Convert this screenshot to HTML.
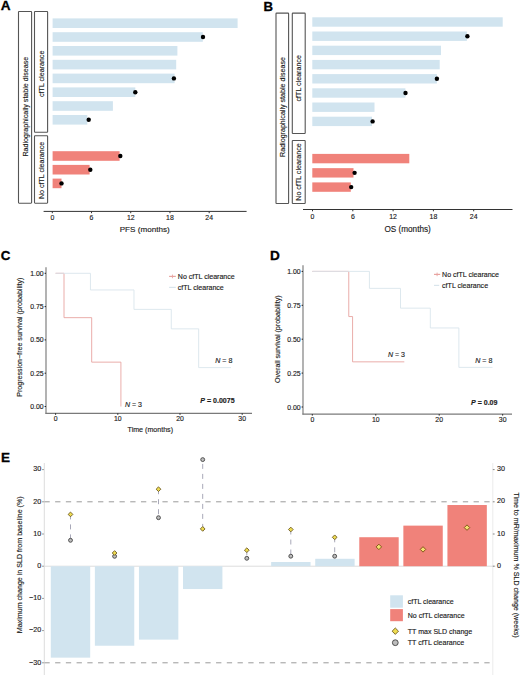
<!DOCTYPE html>
<html><head><meta charset="utf-8"><style>
html,body{margin:0;padding:0;background:#fff;}
body{width:520px;height:675px;overflow:hidden;}
svg{display:block;font-family:"Liberation Sans", sans-serif;}
text{stroke:#1a1a1a;stroke-width:0.14px;}
text.L{stroke:#000;stroke-width:0.3px;}
</style></head><body>
<svg width="520" height="675" viewBox="0 0 520 675">
<rect x="0" y="0" width="520" height="675" fill="#fff"/>
<text class="L" x="0.7" y="10.3" font-size="13.6" text-anchor="start" font-weight="bold" font-style="normal" fill="#000">A</text>
<rect x="18.5" y="11.5" width="13.100000000000001" height="191.7" rx="0.6" fill="#fff" stroke="#555" stroke-width="1.1"/>
<rect x="34.5" y="11.5" width="13.100000000000001" height="120.80000000000001" rx="0.6" fill="#fff" stroke="#555" stroke-width="1.1"/>
<rect x="34.5" y="135.8" width="13.100000000000001" height="67.39999999999998" rx="0.6" fill="#fff" stroke="#555" stroke-width="1.1"/>
<text x="27.61" y="106.70" font-size="7.1" text-anchor="middle" fill="#1a1a1a" transform="rotate(-90 27.61 106.70)">Radiographically stable disease</text>
<text x="43.61" y="73.80" font-size="7.1" text-anchor="middle" fill="#1a1a1a" transform="rotate(-90 43.61 73.80)">cfTL clearance</text>
<text x="43.61" y="170.40" font-size="7.1" text-anchor="middle" fill="#1a1a1a" transform="rotate(-90 43.61 170.40)">No cfTL clearance</text>
<rect x="52.60" y="18.40" width="185.00" height="9.60" fill="#D1E4EF"/>
<rect x="52.60" y="32.20" width="150.20" height="9.60" fill="#D1E4EF"/>
<rect x="52.60" y="46.00" width="124.80" height="9.60" fill="#D1E4EF"/>
<rect x="52.60" y="59.80" width="123.60" height="9.60" fill="#D1E4EF"/>
<rect x="52.60" y="73.60" width="122.00" height="9.60" fill="#D1E4EF"/>
<rect x="52.60" y="87.40" width="82.70" height="9.60" fill="#D1E4EF"/>
<rect x="52.60" y="101.20" width="60.30" height="9.60" fill="#D1E4EF"/>
<rect x="52.60" y="115.00" width="34.70" height="9.60" fill="#D1E4EF"/>
<circle cx="203.0" cy="37.0" r="2.2" fill="#000"/>
<circle cx="173.9" cy="78.4" r="2.2" fill="#000"/>
<circle cx="135.3" cy="92.2" r="2.2" fill="#000"/>
<circle cx="88.7" cy="119.80000000000001" r="2.2" fill="#000"/>
<rect x="52.60" y="151.20" width="67.00" height="9.60" fill="#F0827A"/>
<circle cx="120.3" cy="156.0" r="2.2" fill="#000"/>
<rect x="52.60" y="164.90" width="37.00" height="9.60" fill="#F0827A"/>
<circle cx="90.3" cy="169.7" r="2.2" fill="#000"/>
<rect x="52.60" y="178.60" width="8.90" height="9.60" fill="#F0827A"/>
<circle cx="61.5" cy="183.4" r="2.2" fill="#000"/>
<line x1="43.6" y1="211.4" x2="246.6" y2="211.4" stroke="#333" stroke-width="1.0"/>
<line x1="52.3" y1="211.4" x2="52.3" y2="213.2" stroke="#333" stroke-width="1"/>
<text x="52.3" y="220.4" font-size="6.9" text-anchor="middle" font-weight="normal" font-style="normal" fill="#1a1a1a">0</text>
<line x1="91.52" y1="211.4" x2="91.52" y2="213.2" stroke="#333" stroke-width="1"/>
<text x="91.52" y="220.4" font-size="6.9" text-anchor="middle" font-weight="normal" font-style="normal" fill="#1a1a1a">6</text>
<line x1="130.74" y1="211.4" x2="130.74" y2="213.2" stroke="#333" stroke-width="1"/>
<text x="130.74" y="220.4" font-size="6.9" text-anchor="middle" font-weight="normal" font-style="normal" fill="#1a1a1a">12</text>
<line x1="169.95999999999998" y1="211.4" x2="169.95999999999998" y2="213.2" stroke="#333" stroke-width="1"/>
<text x="169.96" y="220.4" font-size="6.9" text-anchor="middle" font-weight="normal" font-style="normal" fill="#1a1a1a">18</text>
<line x1="209.18" y1="211.4" x2="209.18" y2="213.2" stroke="#333" stroke-width="1"/>
<text x="209.18" y="220.4" font-size="6.9" text-anchor="middle" font-weight="normal" font-style="normal" fill="#1a1a1a">24</text>
<text x="144.7" y="232.3" font-size="8.1" text-anchor="middle" font-weight="normal" font-style="normal" fill="#1a1a1a">PFS (months)</text>
<text class="L" x="263.6" y="10.9" font-size="13.2" text-anchor="start" font-weight="bold" font-style="normal" fill="#000">B</text>
<rect x="276.0" y="13.1" width="12.600000000000023" height="190.4" rx="0.6" fill="#fff" stroke="#555" stroke-width="1.1"/>
<rect x="292.3" y="13.1" width="12.899999999999977" height="120.4" rx="0.6" fill="#fff" stroke="#555" stroke-width="1.1"/>
<rect x="292.3" y="140.5" width="12.899999999999977" height="63.0" rx="0.6" fill="#fff" stroke="#555" stroke-width="1.1"/>
<text x="284.86" y="107.00" font-size="7.1" text-anchor="middle" fill="#1a1a1a" transform="rotate(-90 284.86 107.00)">Radiographically stable disease</text>
<text x="301.31" y="78.30" font-size="7.1" text-anchor="middle" fill="#1a1a1a" transform="rotate(-90 301.31 78.30)">cfTL clearance</text>
<text x="301.31" y="172.00" font-size="7.1" text-anchor="middle" fill="#1a1a1a" transform="rotate(-90 301.31 172.00)">No cfTL clearance</text>
<rect x="312.30" y="17.30" width="190.40" height="9.40" fill="#D1E4EF"/>
<rect x="312.30" y="31.50" width="154.60" height="9.40" fill="#D1E4EF"/>
<rect x="312.30" y="45.70" width="128.70" height="9.40" fill="#D1E4EF"/>
<rect x="312.30" y="59.90" width="127.40" height="9.40" fill="#D1E4EF"/>
<rect x="312.30" y="74.10" width="124.60" height="9.40" fill="#D1E4EF"/>
<rect x="312.30" y="88.30" width="93.10" height="9.40" fill="#D1E4EF"/>
<rect x="312.30" y="102.50" width="62.20" height="9.40" fill="#D1E4EF"/>
<rect x="312.30" y="116.70" width="59.70" height="9.40" fill="#D1E4EF"/>
<circle cx="467.4" cy="36.2" r="2.2" fill="#000"/>
<circle cx="436.9" cy="78.8" r="2.2" fill="#000"/>
<circle cx="405.5" cy="93.0" r="2.2" fill="#000"/>
<circle cx="372.6" cy="121.39999999999999" r="2.2" fill="#000"/>
<rect x="312.30" y="153.90" width="97.00" height="9.40" fill="#F0827A"/>
<rect x="312.30" y="168.15" width="41.20" height="9.40" fill="#F0827A"/>
<rect x="312.30" y="182.40" width="38.50" height="9.40" fill="#F0827A"/>
<circle cx="354.6" cy="172.85" r="2.2" fill="#000"/>
<circle cx="351.2" cy="187.1" r="2.2" fill="#000"/>
<line x1="303" y1="209.5" x2="512.5" y2="209.5" stroke="#333" stroke-width="1.0"/>
<line x1="312.5" y1="209.5" x2="312.5" y2="211.3" stroke="#333" stroke-width="1"/>
<text x="312.5" y="219.0" font-size="6.9" text-anchor="middle" font-weight="normal" font-style="normal" fill="#1a1a1a">0</text>
<line x1="352.8" y1="209.5" x2="352.8" y2="211.3" stroke="#333" stroke-width="1"/>
<text x="352.8" y="219.0" font-size="6.9" text-anchor="middle" font-weight="normal" font-style="normal" fill="#1a1a1a">6</text>
<line x1="393.1" y1="209.5" x2="393.1" y2="211.3" stroke="#333" stroke-width="1"/>
<text x="393.1" y="219.0" font-size="6.9" text-anchor="middle" font-weight="normal" font-style="normal" fill="#1a1a1a">12</text>
<line x1="433.4" y1="209.5" x2="433.4" y2="211.3" stroke="#333" stroke-width="1"/>
<text x="433.4" y="219.0" font-size="6.9" text-anchor="middle" font-weight="normal" font-style="normal" fill="#1a1a1a">18</text>
<line x1="473.7" y1="209.5" x2="473.7" y2="211.3" stroke="#333" stroke-width="1"/>
<text x="473.7" y="219.0" font-size="6.9" text-anchor="middle" font-weight="normal" font-style="normal" fill="#1a1a1a">24</text>
<text x="407.6" y="231.9" font-size="8.2" text-anchor="middle" font-weight="normal" font-style="normal" fill="#1a1a1a">OS (months)</text>
<text class="L" x="0.7" y="259.8" font-size="13.4" text-anchor="start" font-weight="bold" font-style="normal" fill="#000">C</text>
<line x1="46.0" y1="267.2" x2="46.0" y2="413.8" stroke="#7a7a7a" stroke-width="1.15"/>
<line x1="45.4" y1="413.3" x2="252.0" y2="413.3" stroke="#7a7a7a" stroke-width="1.15"/>
<line x1="44.6" y1="273.3" x2="46.0" y2="273.3" stroke="#222" stroke-width="1"/>
<text x="43.6" y="275.75" font-size="6.9" text-anchor="end" font-weight="normal" font-style="normal" fill="#1a1a1a">1.00</text>
<line x1="44.6" y1="306.6" x2="46.0" y2="306.6" stroke="#222" stroke-width="1"/>
<text x="43.6" y="309.05" font-size="6.9" text-anchor="end" font-weight="normal" font-style="normal" fill="#1a1a1a">0.75</text>
<line x1="44.6" y1="339.9" x2="46.0" y2="339.9" stroke="#222" stroke-width="1"/>
<text x="43.6" y="342.35" font-size="6.9" text-anchor="end" font-weight="normal" font-style="normal" fill="#1a1a1a">0.50</text>
<line x1="44.6" y1="373.2" x2="46.0" y2="373.2" stroke="#222" stroke-width="1"/>
<text x="43.6" y="375.65" font-size="6.9" text-anchor="end" font-weight="normal" font-style="normal" fill="#1a1a1a">0.25</text>
<line x1="44.6" y1="406.5" x2="46.0" y2="406.5" stroke="#222" stroke-width="1"/>
<text x="43.6" y="408.95" font-size="6.9" text-anchor="end" font-weight="normal" font-style="normal" fill="#1a1a1a">0.00</text>
<line x1="55.6" y1="413.3" x2="55.6" y2="414.8" stroke="#222" stroke-width="1"/>
<text x="55.6" y="421.0" font-size="6.9" text-anchor="middle" font-weight="normal" font-style="normal" fill="#1a1a1a">0</text>
<line x1="117.8" y1="413.3" x2="117.8" y2="414.8" stroke="#222" stroke-width="1"/>
<text x="117.8" y="421.0" font-size="6.9" text-anchor="middle" font-weight="normal" font-style="normal" fill="#1a1a1a">10</text>
<line x1="180.0" y1="413.3" x2="180.0" y2="414.8" stroke="#222" stroke-width="1"/>
<text x="180.0" y="421.0" font-size="6.9" text-anchor="middle" font-weight="normal" font-style="normal" fill="#1a1a1a">20</text>
<line x1="242.2" y1="413.3" x2="242.2" y2="414.8" stroke="#222" stroke-width="1"/>
<text x="242.2" y="421.0" font-size="6.9" text-anchor="middle" font-weight="normal" font-style="normal" fill="#1a1a1a">30</text>
<text x="21.76" y="337.20" font-size="7.1" text-anchor="middle" fill="#1a1a1a" transform="rotate(-90 21.76 337.20)">Progression−free survival (probability)</text>
<text x="150.3" y="431.5" font-size="7.1" text-anchor="middle" font-weight="normal" font-style="normal" fill="#1a1a1a">Time (months)</text>
<path d="M55.60,273.30 L64.00,273.30 L64.00,317.66 L91.68,317.66 L91.68,362.14 L120.91,362.14 L120.91,406.50 L120.91,406.50" fill="none" stroke="#E8A4A0" stroke-width="0.9"/>
<path d="M55.60,273.30 L90.43,273.30 L90.43,289.95 L133.97,289.95 L133.97,309.40 L171.29,309.40 L171.29,328.84 L198.66,328.84 L198.66,367.61 L231.00,367.61" fill="none" stroke="#D9E5EC" stroke-width="0.9"/>
<line x1="169.1" y1="276.4" x2="175.8" y2="276.4" stroke="#E8A4A0" stroke-width="1.2"/>
<line x1="172.45" y1="274.6" x2="172.45" y2="278.2" stroke="#E8A4A0" stroke-width="0.9"/>
<text x="177.8" y="278.9" font-size="7.05" text-anchor="start" font-weight="normal" font-style="normal" fill="#1a1a1a">No cfTL clearance</text>
<line x1="169.1" y1="287.4" x2="175.8" y2="287.4" stroke="#D9E5EC" stroke-width="1.2"/>
<text x="177.8" y="289.9" font-size="7.05" text-anchor="start" font-weight="normal" font-style="normal" fill="#1a1a1a">cfTL clearance</text>
<text x="215.3" y="362.9" font-size="7.05" text-anchor="start" font-weight="normal" font-style="normal" fill="#1a1a1a"><tspan font-style="italic">N</tspan> = 8</text>
<text x="125.0" y="406.7" font-size="7.05" text-anchor="start" font-weight="normal" font-style="normal" fill="#1a1a1a"><tspan font-style="italic">N</tspan> = 3</text>
<text x="200.3" y="402.5" font-size="7.05" text-anchor="start" font-weight="bold" font-style="normal" fill="#1a1a1a"><tspan font-style="italic">P</tspan> = 0.0075</text>
<text class="L" x="269.9" y="260.1" font-size="13.6" text-anchor="start" font-weight="bold" font-style="normal" fill="#000">D</text>
<line x1="303.0" y1="265.2" x2="303.0" y2="414.6" stroke="#7a7a7a" stroke-width="1.15"/>
<line x1="302.4" y1="414.1" x2="512.0" y2="414.1" stroke="#7a7a7a" stroke-width="1.15"/>
<line x1="301.6" y1="271.4" x2="303.0" y2="271.4" stroke="#222" stroke-width="1"/>
<text x="300.6" y="274.35" font-size="6.9" text-anchor="end" font-weight="normal" font-style="normal" fill="#1a1a1a">1.00</text>
<line x1="301.6" y1="305.3" x2="303.0" y2="305.3" stroke="#222" stroke-width="1"/>
<text x="300.6" y="308.25" font-size="6.9" text-anchor="end" font-weight="normal" font-style="normal" fill="#1a1a1a">0.75</text>
<line x1="301.6" y1="339.2" x2="303.0" y2="339.2" stroke="#222" stroke-width="1"/>
<text x="300.6" y="342.15" font-size="6.9" text-anchor="end" font-weight="normal" font-style="normal" fill="#1a1a1a">0.50</text>
<line x1="301.6" y1="373.1" x2="303.0" y2="373.1" stroke="#222" stroke-width="1"/>
<text x="300.6" y="376.05" font-size="6.9" text-anchor="end" font-weight="normal" font-style="normal" fill="#1a1a1a">0.25</text>
<line x1="301.6" y1="407.0" x2="303.0" y2="407.0" stroke="#222" stroke-width="1"/>
<text x="300.6" y="409.95" font-size="6.9" text-anchor="end" font-weight="normal" font-style="normal" fill="#1a1a1a">0.00</text>
<line x1="312.3" y1="414.1" x2="312.3" y2="415.6" stroke="#222" stroke-width="1"/>
<text x="312.3" y="422.0" font-size="6.9" text-anchor="middle" font-weight="normal" font-style="normal" fill="#1a1a1a">0</text>
<line x1="375.75" y1="414.1" x2="375.75" y2="415.6" stroke="#222" stroke-width="1"/>
<text x="375.75" y="422.0" font-size="6.9" text-anchor="middle" font-weight="normal" font-style="normal" fill="#1a1a1a">10</text>
<line x1="439.2" y1="414.1" x2="439.2" y2="415.6" stroke="#222" stroke-width="1"/>
<text x="439.2" y="422.0" font-size="6.9" text-anchor="middle" font-weight="normal" font-style="normal" fill="#1a1a1a">20</text>
<line x1="502.65" y1="414.1" x2="502.65" y2="415.6" stroke="#222" stroke-width="1"/>
<text x="502.65" y="422.0" font-size="6.9" text-anchor="middle" font-weight="normal" font-style="normal" fill="#1a1a1a">30</text>
<text x="280.36" y="339.20" font-size="7.1" text-anchor="middle" fill="#1a1a1a" transform="rotate(-90 280.36 339.20)">Overall survival (probability)</text>
<path d="M312.30,271.40 L348.78,271.40 L348.78,316.55 L352.59,316.55 L352.59,361.85 L404.30,361.85" fill="none" stroke="#E8A4A0" stroke-width="0.9"/>
<path d="M312.30,271.40 L369.41,271.40 L369.41,288.35 L400.50,288.35 L400.50,308.15 L430.32,308.15 L430.32,327.95 L458.87,327.95 L458.87,367.40 L492.50,367.40" fill="none" stroke="#D9E5EC" stroke-width="0.9"/>
<line x1="434.0" y1="274.4" x2="440.2" y2="274.4" stroke="#E8A4A0" stroke-width="1.2"/>
<line x1="437.1" y1="272.6" x2="437.1" y2="276.2" stroke="#E8A4A0" stroke-width="0.9"/>
<text x="442.1" y="276.9" font-size="7.05" text-anchor="start" font-weight="normal" font-style="normal" fill="#1a1a1a">No cfTL clearance</text>
<line x1="434.0" y1="285.4" x2="439.2" y2="285.4" stroke="#D9E5EC" stroke-width="1.2"/>
<text x="442.1" y="287.9" font-size="7.05" text-anchor="start" font-weight="normal" font-style="normal" fill="#1a1a1a">cfTL clearance</text>
<text x="387.9" y="356.8" font-size="7.05" text-anchor="start" font-weight="normal" font-style="normal" fill="#1a1a1a"><tspan font-style="italic">N</tspan> = 3</text>
<text x="475.3" y="362.6" font-size="7.05" text-anchor="start" font-weight="normal" font-style="normal" fill="#1a1a1a"><tspan font-style="italic">N</tspan> = 8</text>
<text x="471.0" y="404.7" font-size="7.05" text-anchor="start" font-weight="bold" font-style="normal" fill="#1a1a1a"><tspan font-style="italic">P</tspan> = 0.09</text>
<text class="L" x="1.0" y="462.3" font-size="13.5" text-anchor="start" font-weight="bold" font-style="normal" fill="#000">E</text>
<line x1="44.3" y1="463" x2="44.3" y2="675" stroke="#DDDDDD" stroke-width="1"/>
<line x1="492.8" y1="463" x2="492.8" y2="675" stroke="#ECECEC" stroke-width="1"/>
<line x1="43.8" y1="566.2" x2="495.5" y2="566.2" stroke="#DDDDDD" stroke-width="1"/>
<line x1="44.4" y1="501.80000000000007" x2="490.5" y2="501.80000000000007" stroke="#9A9A9A" stroke-width="1" stroke-dasharray="5.3 5.43"/>
<line x1="44.4" y1="662.8000000000001" x2="490.5" y2="662.8000000000001" stroke="#9A9A9A" stroke-width="1" stroke-dasharray="5.3 5.43"/>
<line x1="42.2" y1="469.6" x2="43.8" y2="469.6" stroke="#888" stroke-width="1"/>
<text x="41.2" y="471.4" font-size="7.2" text-anchor="end" font-weight="normal" font-style="normal" fill="#1a1a1a">30</text>
<line x1="42.2" y1="501.80000000000007" x2="43.8" y2="501.80000000000007" stroke="#888" stroke-width="1"/>
<text x="41.2" y="503.6" font-size="7.2" text-anchor="end" font-weight="normal" font-style="normal" fill="#1a1a1a">20</text>
<line x1="42.2" y1="534.0" x2="43.8" y2="534.0" stroke="#888" stroke-width="1"/>
<text x="41.2" y="535.8" font-size="7.2" text-anchor="end" font-weight="normal" font-style="normal" fill="#1a1a1a">10</text>
<line x1="42.2" y1="566.2" x2="43.8" y2="566.2" stroke="#888" stroke-width="1"/>
<text x="41.2" y="568.0" font-size="7.2" text-anchor="end" font-weight="normal" font-style="normal" fill="#1a1a1a">0</text>
<line x1="42.2" y1="598.4000000000001" x2="43.8" y2="598.4000000000001" stroke="#888" stroke-width="1"/>
<text x="41.2" y="600.2" font-size="7.2" text-anchor="end" font-weight="normal" font-style="normal" fill="#1a1a1a">−10</text>
<line x1="42.2" y1="630.6" x2="43.8" y2="630.6" stroke="#888" stroke-width="1"/>
<text x="41.2" y="632.4" font-size="7.2" text-anchor="end" font-weight="normal" font-style="normal" fill="#1a1a1a">−20</text>
<line x1="42.2" y1="662.8000000000001" x2="43.8" y2="662.8000000000001" stroke="#888" stroke-width="1"/>
<text x="41.2" y="664.6" font-size="7.2" text-anchor="end" font-weight="normal" font-style="normal" fill="#1a1a1a">−30</text>
<line x1="492.8" y1="469.6" x2="494.6" y2="469.6" stroke="#888" stroke-width="1"/>
<text x="497.0" y="471.2" font-size="7.2" text-anchor="start" font-weight="normal" font-style="normal" fill="#1a1a1a">30</text>
<line x1="492.8" y1="501.80000000000007" x2="494.6" y2="501.80000000000007" stroke="#888" stroke-width="1"/>
<text x="497.0" y="503.4" font-size="7.2" text-anchor="start" font-weight="normal" font-style="normal" fill="#1a1a1a">20</text>
<line x1="492.8" y1="534.0" x2="494.6" y2="534.0" stroke="#888" stroke-width="1"/>
<text x="497.0" y="535.6" font-size="7.2" text-anchor="start" font-weight="normal" font-style="normal" fill="#1a1a1a">10</text>
<line x1="492.8" y1="566.2" x2="494.6" y2="566.2" stroke="#888" stroke-width="1"/>
<text x="497.0" y="567.8" font-size="7.2" text-anchor="start" font-weight="normal" font-style="normal" fill="#1a1a1a">0</text>
<text x="22.26" y="564.80" font-size="7.1" text-anchor="middle" fill="#1a1a1a" transform="rotate(-90 22.26 564.80)">Maximum change in SLD from baseline (%)</text>
<text x="513.94" y="565.00" font-size="7.1" text-anchor="middle" fill="#1a1a1a" transform="rotate(90 513.94 565.00)">Time to mR/maximum % SLD change (weeks)</text>
<rect x="50.80" y="566.20" width="39.40" height="91.45" fill="#D1E4EF"/>
<rect x="94.87" y="566.20" width="39.40" height="79.53" fill="#D1E4EF"/>
<rect x="138.94" y="566.20" width="39.40" height="73.42" fill="#D1E4EF"/>
<rect x="183.01" y="566.20" width="39.40" height="22.86" fill="#D1E4EF"/>
<rect x="271.15" y="562.01" width="39.40" height="4.19" fill="#D1E4EF"/>
<rect x="315.22" y="558.79" width="39.40" height="7.41" fill="#D1E4EF"/>
<rect x="359.29" y="537.22" width="39.40" height="28.98" fill="#F0827A"/>
<rect x="403.36" y="525.63" width="39.40" height="40.57" fill="#F0827A"/>
<rect x="447.43" y="505.02" width="39.40" height="61.18" fill="#F0827A"/>
<line x1="70.5" y1="514.4" x2="70.5" y2="540.3" stroke="#A8A8B8" stroke-width="1" stroke-dasharray="5 5"/>
<line x1="114.6" y1="553.0" x2="114.6" y2="556.3" stroke="#A8A8B8" stroke-width="1" stroke-dasharray="5 5"/>
<line x1="158.5" y1="489.2" x2="158.5" y2="517.7" stroke="#A8A8B8" stroke-width="1" stroke-dasharray="5 5"/>
<line x1="202.7" y1="528.9" x2="202.7" y2="459.6" stroke="#A8A8B8" stroke-width="1" stroke-dasharray="5 5"/>
<line x1="246.8" y1="550.2" x2="246.8" y2="558.3" stroke="#A8A8B8" stroke-width="1" stroke-dasharray="5 5"/>
<line x1="290.8" y1="529.5" x2="290.8" y2="556.2" stroke="#A8A8B8" stroke-width="1" stroke-dasharray="5 5"/>
<line x1="334.7" y1="537.3" x2="334.7" y2="556.2" stroke="#A8A8B8" stroke-width="1" stroke-dasharray="5 5"/>
<circle cx="70.5" cy="540.3" r="1.95" fill="#BDBDBD" stroke="#444" stroke-width="0.9"/>
<path d="M70.5 512.05 L72.85 514.4 L70.5 516.75 L68.15 514.4 Z" fill="#EEDC50" stroke="#6E5A22" stroke-width="0.9"/>
<circle cx="114.6" cy="556.3" r="1.95" fill="#BDBDBD" stroke="#444" stroke-width="0.9"/>
<path d="M114.6 550.65 L116.94999999999999 553.0 L114.6 555.35 L112.25 553.0 Z" fill="#EEDC50" stroke="#6E5A22" stroke-width="0.9"/>
<circle cx="158.5" cy="517.7" r="1.95" fill="#BDBDBD" stroke="#444" stroke-width="0.9"/>
<path d="M158.5 486.84999999999997 L160.85 489.2 L158.5 491.55 L156.15 489.2 Z" fill="#EEDC50" stroke="#6E5A22" stroke-width="0.9"/>
<circle cx="202.7" cy="459.6" r="1.95" fill="#BDBDBD" stroke="#444" stroke-width="0.9"/>
<path d="M202.7 526.55 L205.04999999999998 528.9 L202.7 531.25 L200.35 528.9 Z" fill="#EEDC50" stroke="#6E5A22" stroke-width="0.9"/>
<circle cx="246.8" cy="558.3" r="1.95" fill="#BDBDBD" stroke="#444" stroke-width="0.9"/>
<path d="M246.8 547.85 L249.15 550.2 L246.8 552.5500000000001 L244.45000000000002 550.2 Z" fill="#EEDC50" stroke="#6E5A22" stroke-width="0.9"/>
<circle cx="290.8" cy="556.2" r="1.95" fill="#BDBDBD" stroke="#444" stroke-width="0.9"/>
<path d="M290.8 527.15 L293.15000000000003 529.5 L290.8 531.85 L288.45 529.5 Z" fill="#EEDC50" stroke="#6E5A22" stroke-width="0.9"/>
<circle cx="334.7" cy="556.2" r="1.95" fill="#BDBDBD" stroke="#444" stroke-width="0.9"/>
<path d="M334.7 534.9499999999999 L337.05 537.3 L334.7 539.65 L332.34999999999997 537.3 Z" fill="#EEDC50" stroke="#6E5A22" stroke-width="0.9"/>
<path d="M378.85 544.15 L381.6 546.9 L378.85 549.65 L376.1 546.9 Z" fill="#F4E070" stroke="#85561C" stroke-width="1"/>
<path d="M423.0 546.65 L425.75 549.4 L423.0 552.15 L420.25 549.4 Z" fill="#F4E070" stroke="#85561C" stroke-width="1"/>
<path d="M467.0 524.85 L469.75 527.6 L467.0 530.35 L464.25 527.6 Z" fill="#F4E070" stroke="#85561C" stroke-width="1"/>
<rect x="390.20" y="595.30" width="12.70" height="12.40" fill="#D1E4EF"/>
<rect x="390.20" y="609.10" width="12.70" height="12.10" fill="#F0827A"/>
<text x="407.7" y="604.0" font-size="7.05" text-anchor="start" font-weight="normal" font-style="normal" fill="#1a1a1a">cfTL clearance</text>
<text x="407.7" y="617.5" font-size="7.05" text-anchor="start" font-weight="normal" font-style="normal" fill="#1a1a1a">No cfTL clearance</text>
<path d="M395.3 628.0 L398.5 631.2 L395.3 634.4000000000001 L392.1 631.2 Z" fill="#EEDC50" stroke="#6E5A22" stroke-width="0.9"/>
<circle cx="395.3" cy="642.7" r="2.9" fill="#BDBDBD" stroke="#444" stroke-width="0.9"/>
<text x="407.7" y="633.5" font-size="7.05" text-anchor="start" font-weight="normal" font-style="normal" fill="#1a1a1a">TT max SLD change</text>
<text x="407.7" y="645.2" font-size="7.05" text-anchor="start" font-weight="normal" font-style="normal" fill="#1a1a1a">TT cfTL clearance</text>
</svg>
</body></html>
